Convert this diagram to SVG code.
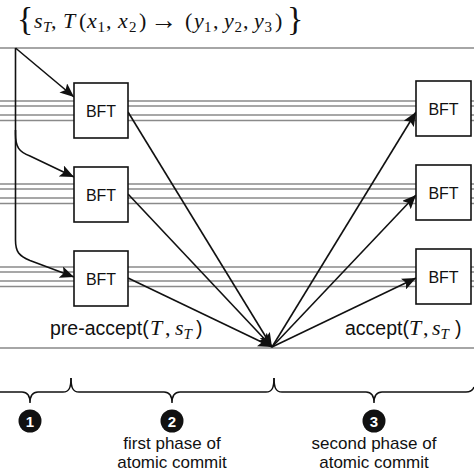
<svg xmlns="http://www.w3.org/2000/svg" width="474" height="474" viewBox="0 0 474 474">
<defs>
<style>
.rule{stroke:#888;stroke-width:1.6;fill:none}
.staff{stroke:#8a8a8a;stroke-width:1.5;fill:none}
.box{fill:#fff;stroke:#111;stroke-width:1.6}
.lbl{font-family:"Liberation Sans",Arial,sans-serif;font-size:16px;fill:#111;text-anchor:middle}
.conn{stroke:#111;stroke-width:1.6;fill:none}
.brace{stroke:#111;stroke-width:1.5;fill:none}
.sans{font-family:"Liberation Sans",Arial,sans-serif;fill:#111}
.math{font-family:"Liberation Serif","Times New Roman",serif;fill:#111}
.it{font-style:italic}
.num{font-family:"Liberation Sans",Arial,sans-serif;font-size:15px;font-weight:bold;fill:#fff;text-anchor:middle}
</style>
<marker id="ah" markerUnits="userSpaceOnUse" markerWidth="15" markerHeight="12" refX="14" refY="6" orient="auto">
<path d="M0,0 L14,6 L0,12 L3,6 z" fill="#111"/>
</marker>
</defs>

<g id="rules">
<line class="rule" x1="0" y1="48" x2="474" y2="48"/>
<line class="rule" x1="0" y1="348" x2="474" y2="348"/>
</g>

<g id="staves">
<path class="staff" d="M0,101H74M128,101H416M471,101H474 M0,106H74M128,106H416M471,106H474 M0,115H74M128,115H416M471,115H474 M0,120.5H74M128,120.5H416M471,120.5H474"/>
<path class="staff" d="M0,184H74M128,184H416M471,184H474 M0,189H74M128,189H416M471,189H474 M0,198H74M128,198H416M471,198H474 M0,203.5H74M128,203.5H416M471,203.5H474"/>
<path class="staff" d="M0,267H74M128,267H416M471,267H474 M0,272H74M128,272H416M471,272H474 M0,281H74M128,281H416M471,281H474 M0,286.5H74M128,286.5H416M471,286.5H474"/>
</g>

<g id="formula">
<text class="math" y="28" font-size="22"><tspan x="17" y="30" font-size="34">{</tspan><tspan x="34" y="28" class="it">s</tspan><tspan x="43" y="32" class="it" font-size="15">T</tspan><tspan x="51" y="28">,</tspan><tspan x="63" class="it">T</tspan><tspan x="79">(</tspan><tspan x="87" class="it">x</tspan><tspan x="97.5" y="32" font-size="15">1</tspan><tspan x="106" y="28">,</tspan><tspan x="118" class="it">x</tspan><tspan x="129" y="32" font-size="15">2</tspan><tspan x="139" y="28">)</tspan><tspan x="150" y="29" font-size="27">→</tspan><tspan x="185" y="28">(</tspan><tspan x="194" class="it">y</tspan><tspan x="204" y="32" font-size="15">1</tspan><tspan x="213" y="28">,</tspan><tspan x="224" class="it">y</tspan><tspan x="234.5" y="32" font-size="15">2</tspan><tspan x="243" y="28">,</tspan><tspan x="254" class="it">y</tspan><tspan x="264.5" y="32" font-size="15">3</tspan><tspan x="275" y="28">)</tspan><tspan x="287" y="30" font-size="34">}</tspan></text>
</g>

<g id="connectors">
<path class="conn" d="M15.5,48 L74,97" marker-end="url(#ah)"/>
<path class="conn" d="M15.5,48 L15.5,134 C15.5,147 19,152 30,156 L74,177" marker-end="url(#ah)"/>
<path class="conn" d="M15.5,130 L15.5,240 C15.5,252 19,256 30,260.5 L74,277" marker-end="url(#ah)"/>
<path class="conn" d="M128,112 L272,347" marker-end="url(#ah)"/>
<path class="conn" d="M128,194 L272,347" marker-end="url(#ah)"/>
<path class="conn" d="M128,278 L272,347" marker-end="url(#ah)"/>
<path class="conn" d="M272,347 L416,112" marker-end="url(#ah)"/>
<path class="conn" d="M272,347 L416,195" marker-end="url(#ah)"/>
<path class="conn" d="M272,347 L416,278" marker-end="url(#ah)"/>
</g>

<g id="bft-l1"><rect class="box" x="74" y="83" width="54" height="55"/><text class="lbl" x="101" y="116.5">BFT</text></g>
<g id="bft-l2"><rect class="box" x="74" y="167" width="54" height="55"/><text class="lbl" x="101" y="200.5">BFT</text></g>
<g id="bft-l3"><rect class="box" x="74" y="251" width="54" height="55"/><text class="lbl" x="101" y="284.5">BFT</text></g>
<g id="bft-r1"><rect class="box" x="416" y="81" width="55" height="55"/><text class="lbl" x="443.5" y="114.5">BFT</text></g>
<g id="bft-r2"><rect class="box" x="416" y="165" width="55" height="55"/><text class="lbl" x="443.5" y="198.5">BFT</text></g>
<g id="bft-r3"><rect class="box" x="416" y="249" width="55" height="55"/><text class="lbl" x="443.5" y="282.5">BFT</text></g>

<g id="pre-accept">
<text class="sans" x="50" y="335" font-size="19.5">pre-accept(<tspan x="150" class="math it" font-size="22">T</tspan><tspan x="165" class="math" font-size="22">,</tspan><tspan x="175" class="math it" font-size="22">s</tspan><tspan x="183.5" y="339" class="math it" font-size="15">T</tspan><tspan x="196" y="335">)</tspan></text>
</g>
<g id="accept">
<text class="sans" x="345" y="335" font-size="19.5">accept(<tspan x="409" class="math it" font-size="22">T</tspan><tspan x="423" class="math" font-size="22">,</tspan><tspan x="432" class="math it" font-size="22">s</tspan><tspan x="440.5" y="339" class="math it" font-size="15">T</tspan><tspan x="455" y="335">)</tspan></text>
</g>

<g id="braces">
<path class="brace" d="M0,392 L22,392 C27,392 30,395 30,403 C30,395 33,392 38,392 L63,392 C69,392 71,388 71,378"/>
<path class="brace" d="M71,378 C71,388 73,392 79,392 L164,392 C169,392 172,395 172,403 C172,395 175,392 180,392 L266,392 C272,392 274,388 274,378"/>
<path class="brace" d="M274,378 C274,388 276,392 282,392 L366,392 C371,392 374,395 374,403 C374,395 377,392 382,392 L466,392 C471,392 473,390 474,387"/>
</g>

<g id="step1"><circle cx="30" cy="421" r="11.5" fill="#111"/><text class="num" x="30" y="426.5">1</text></g>
<g id="step2"><circle cx="172" cy="421" r="11.5" fill="#111"/><text class="num" x="172" y="426.5">2</text>
<text class="sans" x="172" y="449" font-size="17" text-anchor="middle">first phase of</text>
<text class="sans" x="172" y="468" font-size="17" text-anchor="middle">atomic commit</text></g>
<g id="step3"><circle cx="374" cy="421" r="11.5" fill="#111"/><text class="num" x="374" y="426.5">3</text>
<text class="sans" x="374" y="449" font-size="17" text-anchor="middle">second phase of</text>
<text class="sans" x="374" y="468" font-size="17" text-anchor="middle">atomic commit</text></g>
</svg>
